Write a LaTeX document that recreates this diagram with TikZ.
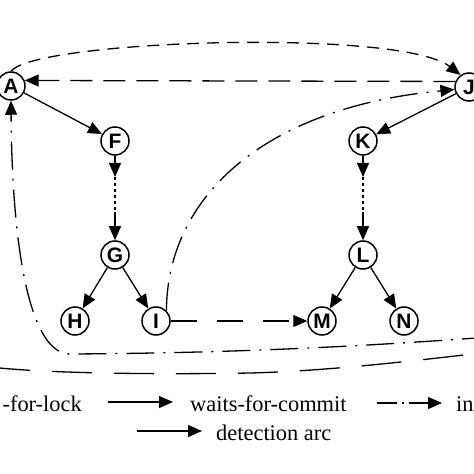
\documentclass[tikz,border=0pt]{standalone}
\usepackage{fontspec}
\setmainfont{Liberation Serif}
\setsansfont{Liberation Sans}
\usetikzlibrary{arrows.meta}
\tikzset{
  tnode/.style={circle, draw, line width=1.5bp, minimum size=28bp, inner sep=0pt,
    font=\sffamily\bfseries\fontsize{21}{21}\selectfont},
  tip/.style={-{Triangle[length=14bp,width=12bp]}},
  arr/.style={line width=1.3bp, tip},
  plain/.style={line width=1.3bp},
  dots/.style={line width=1.3bp, dash pattern=on 3bp off 3bp},
  lockline/.style={line width=1.3bp, dash pattern=on 22bp off 11bp},
  toparc/.style={line width=1.3bp, dash pattern=on 12bp off 8bp},
  longdash/.style={line width=1.3bp, dash pattern=on 26bp off 20bp},
  dashdot/.style={line width=1.3bp, dash pattern=on 28bp off 9bp on 2bp off 9bp},
  bottomdash/.style={line width=1.3bp, dash pattern=on 40bp off 22bp},
  legtext/.style={inner sep=0pt, font=\fontsize{22.5}{22.5}\selectfont},
}
\begin{document}
\begin{tikzpicture}[x=1bp,y=-1bp]
\useasboundingbox (0,0) rectangle (474,474);
\clip (0,0) rectangle (474,474);
% nodes
\node[tnode] (A) at (11,86) {A};
\node[tnode] (J) at (469,87) {J};
\node[tnode] (F) at (115,141) {F};
\node[tnode] (K) at (363,141) {K};
\node[tnode] (G) at (115,255) {G};
\node[tnode] (L) at (363,255) {L};
\node[tnode] (H) at (75,321) {H};
\node[tnode] (I) at (156,321) {I};
\node[tnode] (M) at (322,321) {M};
\node[tnode] (N) at (404,321) {N};
% helper coordinates
\coordinate (f1) at (115,177);
\coordinate (f2) at (115,212);
\coordinate (k1) at (363,177);
\coordinate (k2) at (363,212);
\coordinate (offR1) at (490,337);
\coordinate (offR2) at (490,352);
\coordinate (offL) at (-10,367);
% solid arcs
\draw[arr] (A) -- (F);
\draw[arr] (J) -- (K);
\draw[arr] (G) -- (H);
\draw[arr] (G) -- (I);
\draw[arr] (L) -- (M);
\draw[arr] (L) -- (N);
% chains
\draw[arr] (F) -- (f1);
\draw[dots] (f1) -- (f2);
\draw[arr] (f2) -- (G);
\draw[arr] (K) -- (k1);
\draw[dots] (k1) -- (k2);
\draw[arr] (k2) -- (L);
% J -> A
\draw[lockline, tip] (J.158) -- (A.22);
% top arc A -> J
\draw[toparc, tip] (A.north) .. controls (35,40) and (400,28) .. (J.125);
% I -> M
\draw[longdash, tip] (I) -- (M);
% I -> J
\draw[dashdot, tip] (I.45) .. controls (167,200) and (260,108) .. (J.190);
% loop into A
\draw[dashdot, tip] (offR1) .. controls (380,345) and (250,353) .. (70,354) .. controls (30,354) and (12,250) .. (A.south);
% bottom long dashed line
\draw[bottomdash] (offL) .. controls (60,375) and (200,374) .. (250,373) .. controls (330,371) and (420,360) .. (offR2);
% legend
\node[legtext, anchor=base east] (t1) at (82,411) {-for-lock};
\coordinate (l1a) at (108,402);
\coordinate (l1b) at (173,402);
\draw[arr] (l1a) -- (l1b);
\node[legtext, anchor=base west] (t2) at (190,411) {waits-for-commit};
\coordinate (l2a) at (377,403);
\coordinate (l2b) at (442,403);
\draw[plain, dash pattern=on 20bp off 5bp on 2bp off 5bp, tip] (l2a) -- (l2b);
\node[legtext, anchor=base west] (t3) at (456,411) {in};
\coordinate (l3a) at (137,431);
\coordinate (l3b) at (202,431);
\draw[arr] (l3a) -- (l3b);
\node[legtext, anchor=base west] (t4) at (216,440) {detection arc};
\end{tikzpicture}
\end{document}
